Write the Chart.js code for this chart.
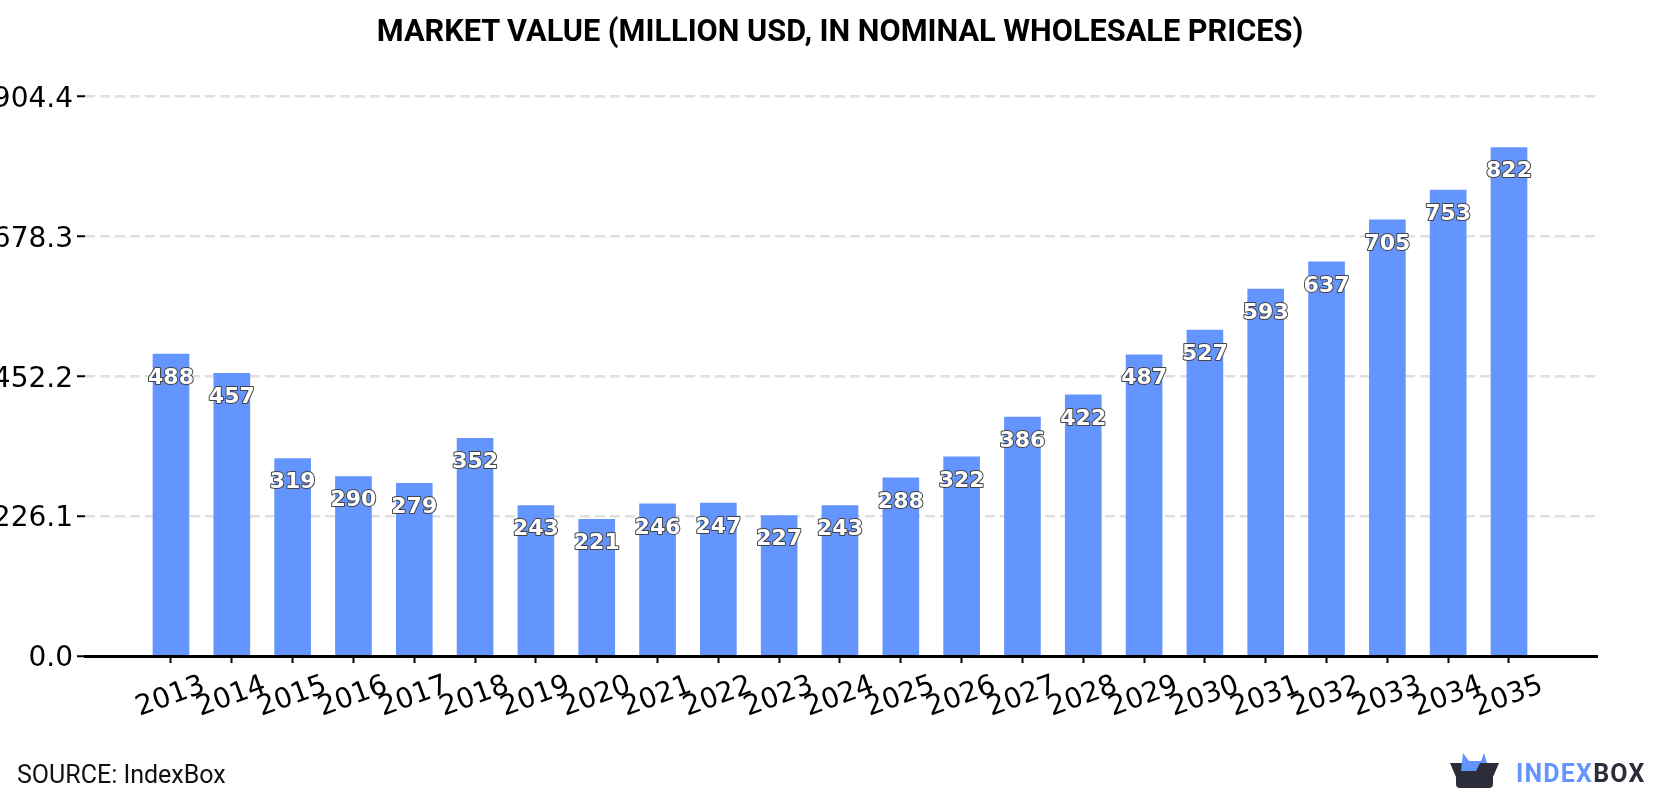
<!DOCTYPE html>
<html>
<head>
<meta charset="utf-8">
<title>Market value</title>
<script src="https://cdn.jsdelivr.net/npm/chart.js@4/dist/chart.umd.min.js"></script>
<style>
  html, body { margin:0; padding:0; background:#fff; }
  #wrap { position:relative; width:1680px; height:800px; overflow:hidden; }
  #heading {
    position:absolute; left:0; top:13px; width:1680px; text-align:center;
    font:bold 30.7px/36px Roboto, sans-serif; color:#000;
  }
  #source {
    position:absolute; left:17px; top:760px;
    font:25px Roboto, sans-serif; color:#111;
  }
  #logo { position:absolute; left:1450px; top:753px; }
  #brand {
    position:absolute; left:1516px; top:759px;
    font:bold 25px Roboto, sans-serif; letter-spacing:1.2px; color:#2b2d3a;
  }
  #brand span { color:#6495ff; }
</style>
</head>
<body>
<div id="wrap">
  <canvas id="marketChart" width="1680" height="800"></canvas>
  <div id="heading">MARKET VALUE (MILLION USD, IN NOMINAL WHOLESALE PRICES)</div>
  <div id="source">SOURCE: IndexBox</div>
  <svg id="logo" width="50" height="36" viewBox="0 0 50 36">
    <path d="M0 10 H49 L43 24 V31 Q43 35 39 35 H10 Q6 35 6 31 V24 Z" fill="#2b2d3a"/>
    <path d="M11 18 L13 0 L19 8 H31 L34 0 L37 10 H30 L26 18 Z" fill="#6495ff"/>
  </svg>
  <div id="brand"><span>INDEX</span>BOX</div>
</div>
<script>
const years = [2013,2014,2015,2016,2017,2018,2019,2020,2021,2022,2023,2024,2025,2026,2027,2028,2029,2030,2031,2032,2033,2034,2035];
const values = [488,457,319,290,279,352,243,221,246,247,227,243,288,322,386,422,487,527,593,637,705,753,822];
const yTicks = [0,226.1,452.2,678.3,904.4];

// white numbers with a thin dark outline, just under the top of each bar
const barLabels = {
  id:'barLabels',
  afterDatasetsDraw(chart){
    const ctx = chart.ctx;
    ctx.save();
    ctx.font = 'bold 22px "DejaVu Sans"';
    ctx.textAlign = 'center';
    ctx.textBaseline = 'middle';
    ctx.lineJoin = 'round';
    ctx.lineWidth = 2;
    ctx.strokeStyle = '#444';
    ctx.fillStyle = '#fff';
    chart.getDatasetMeta(0).data.forEach((bar,i)=>{
      ctx.strokeText(String(values[i]), bar.x, bar.y + 24);
      ctx.fillText(String(values[i]), bar.x, bar.y + 24);
    });
    ctx.restore();
  }
};

new Chart(document.getElementById('marketChart'),{
  type:'bar',
  plugins:[barLabels],
  data:{
    datasets:[{
      data:years.map((year,i)=>({x:year,y:values[i]})),
      backgroundColor:'#6495ff',
      barThickness:36
    }]
  },
  options:{
    responsive:false,
    animation:false,
    layout:{ padding:{ left:0, right:83, top:96.5, bottom:0 } },
    plugins:{
      legend:{ display:false },
      tooltip:{ enabled:false }
    },
    scales:{
      x:{
        type:'linear',
        offset:false,
        min:2011.586,
        max:2036.447,
        afterBuildTicks(scale){ scale.ticks = years.map(value=>({value})); },
        afterFit(scale){ scale.height = 144; },
        border:{ color:'#000', width:3 },
        grid:{ display:true, offset:false, drawOnChartArea:false, drawTicks:true, tickLength:7, tickColor:'#000', tickWidth:2 },
        ticks:{
          autoSkip:false,
          minRotation:20,
          maxRotation:20,
          labelOffset:33,
          padding:6,
          color:'#000',
          font:{ family:'DejaVu Sans', size:28 },
          callback:value=>String(value)
        }
      },
      y:{
        min:0,
        max:904.4,
        afterBuildTicks(scale){ scale.ticks = yTicks.map(value=>({value})); },
        afterFit(scale){ scale.width = 85; },
        border:{ display:false, dash:[10,5] },
        grid:{ color:'#e0e0e0', lineWidth:2.5, tickLength:8, tickColor:'#000', tickWidth:2, tickBorderDash:[] },
        ticks:{
          padding:4,
          labelOffset:3,
          color:'#000',
          font:{ family:'DejaVu Sans', size:28 },
          callback:value=>value.toFixed(1)
        }
      }
    }
  }
});
</script>
</body>
</html>
